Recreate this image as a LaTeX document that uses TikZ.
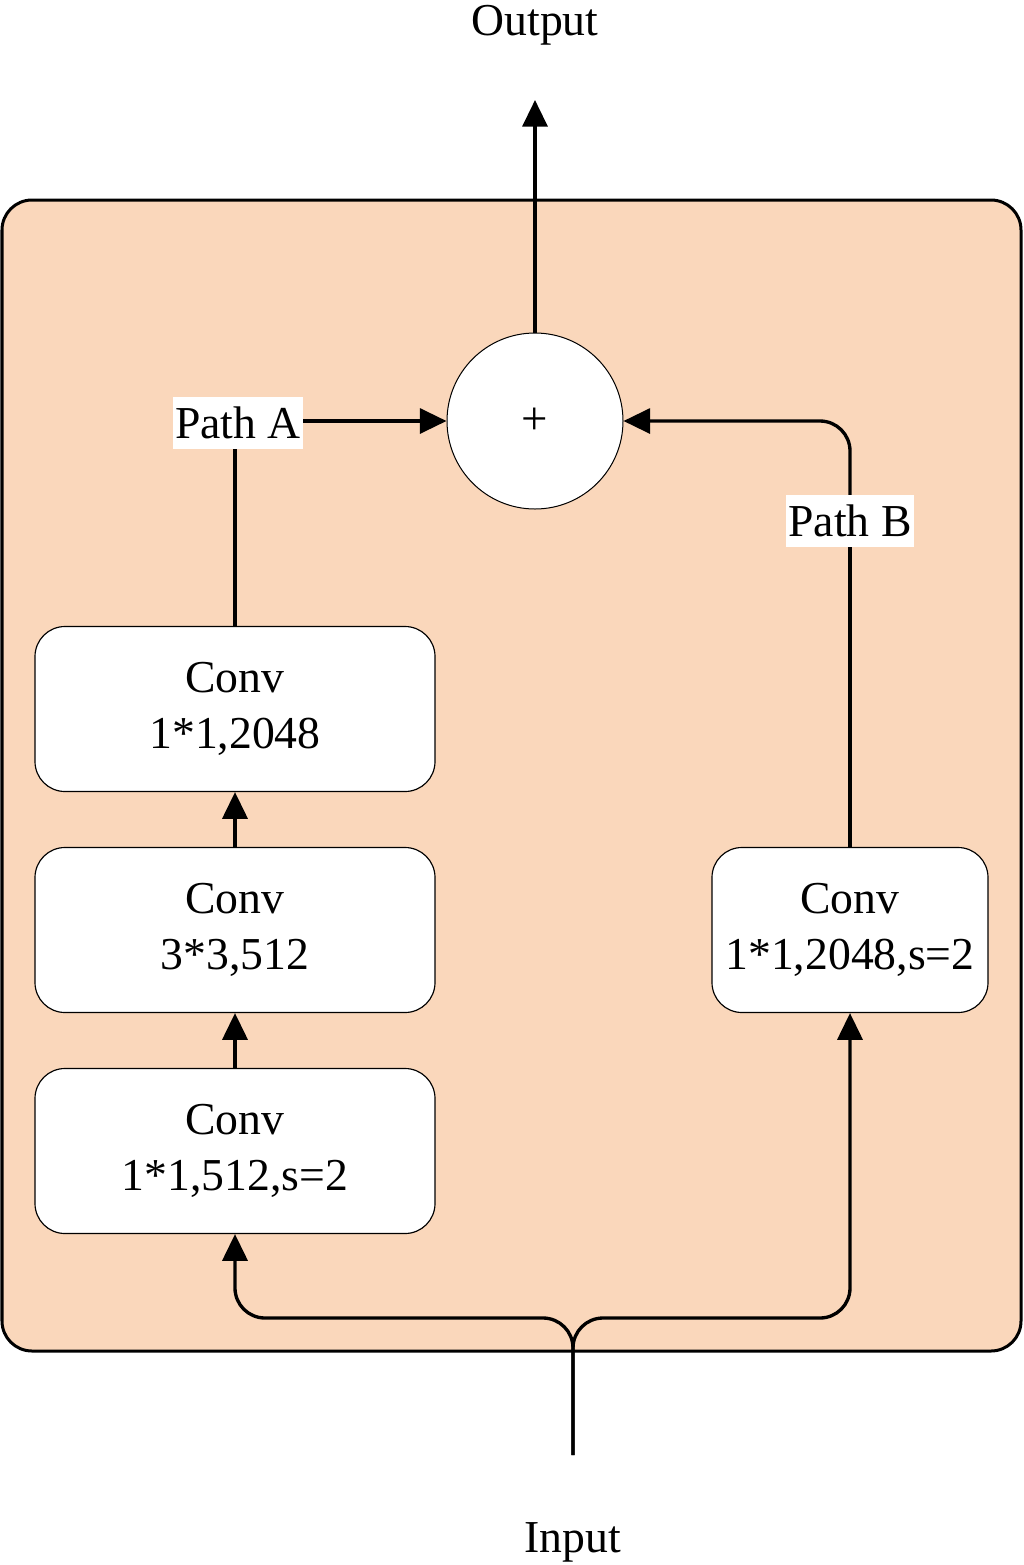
\documentclass[tikz,border=0pt]{standalone}
\usepackage{fontspec}
\setmainfont{Liberation Serif}
\usetikzlibrary{arrows.meta}
\definecolor{peach}{HTML}{FAD7BB}
\begin{document}
\begin{tikzpicture}[x=0.3mm,y=-0.3mm,
  txt/.style={font=\fontsize{39}{48}\selectfont},
  conv/.style={txt, draw, line width=0.35mm, fill=white, rounded corners=9mm,
    minimum width=120mm, minimum height=49.5mm, align=center, inner sep=0pt},
  plabel/.style={txt, fill=white, inner sep=0.6mm, minimum height=15.6mm},
  conn/.style={line width=1mm, -{Triangle[length=8mm,width=7.5mm]}},
  plain/.style={line width=1mm}
]
\useasboundingbox (0,0) rectangle (1023,1565);
\draw[fill=peach, line width=0.9mm, rounded corners=9mm] (2,200) rectangle (1021,1351);

\node[draw, circle, fill=white, line width=0.3mm, minimum size=52.8mm, inner sep=0pt,
  font=\fontsize{40}{48}\selectfont] (plus) at (535,421) {+};

\node[conv] (b1) at (235,709) {Conv\\1*1,2048};
\node[conv] (b2) at (235,930) {Conv\\3*3,512};
\node[conv] (b3) at (235,1151) {Conv\\1*1,512,s=2};
\node[conv, minimum width=82.8mm] (b4) at (850,930) {Conv\\1*1,2048,s=2};

\node[plabel] (pa) at (238,423) {Path A};
\node[plabel] (pb) at (850,521) {Path B};

\node[txt] (out) at (535,25) {Output};
\node[txt] (inp) at (573,1542) {Input};
\coordinate (outtip) at (535,100);
\coordinate (in) at (573,1455);
\coordinate (fork) at (573,1318);

\draw[conn] (plus.north) -- (outtip);
\draw[plain] (b1.north) -- (b1.north |- pa.south);
\draw[conn] (pa.east |- plus.west) -- (plus.west);
\draw[plain] (b4.north) -- (pb.south);
\draw[conn, rounded corners=9mm] (pb.north) |- (plus.east);
\draw[conn] (b3.north) -- (b2.south);
\draw[conn] (b2.north) -- (b1.south);
\draw[conn, rounded corners=9mm] (in) -- (fork) -| (b3.south);
\draw[conn, rounded corners=9mm] (in) -- (fork) -| (b4.south);
\end{tikzpicture}
\end{document}
